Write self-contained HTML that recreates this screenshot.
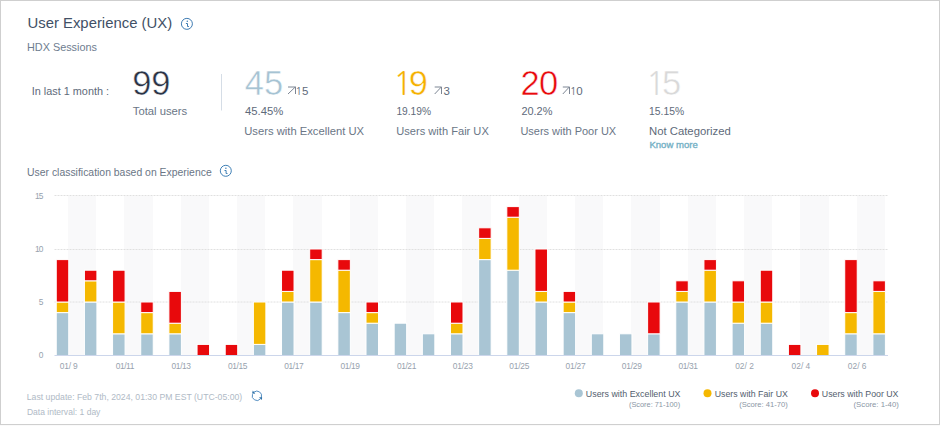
<!DOCTYPE html>
<html><head><meta charset="utf-8"><style>
html,body{margin:0;padding:0;background:#fafafa;}
body{width:940px;height:426px;overflow:hidden;position:relative;}
svg{position:absolute;left:0;top:0;display:block;}
text{font-family:"Liberation Sans", Arial, sans-serif;}
.ax{font-size:8.4px;fill:#97a2ae;}
</style></head><body>
<svg width="940" height="426" viewBox="0 0 940 426">
<rect x="0.5" y="0.5" width="939" height="424" fill="#fff" stroke="#cfcfcf" stroke-width="1"/>
<text x="27.5" y="28" font-size="15" fill="#415066" textLength="144.6" lengthAdjust="spacingAndGlyphs">User Experience (UX)</text>
<circle cx="186.9" cy="23.85" r="5.5" fill="none" stroke="#3f7cb3" stroke-width="1"/><circle cx="187.3" cy="21.25" r="0.75" fill="#3f7cb3"/><path d="M185.9 23.5 H187.5 V26.5 H188.9" stroke="#3f7cb3" stroke-width="1" fill="none"/>
<text x="27.0" y="51" font-size="10.5" fill="#6e7d8f" textLength="69.9" lengthAdjust="spacingAndGlyphs">HDX Sessions</text>
<text x="31.8" y="94.5" font-size="11" fill="#5e6a7a" textLength="77.2" lengthAdjust="spacingAndGlyphs">In last 1 month :</text>
<text x="132.2 151.2" y="94.7" font-size="34.5" stroke="#fff" stroke-width="0.5" fill="#2a3345">99</text>
<text x="132.8" y="114.8" font-size="11" fill="#6a7686" textLength="54.4" lengthAdjust="spacingAndGlyphs">Total users</text>
<line x1="221.5" y1="74" x2="221.5" y2="110.5" stroke="#d5dde6" stroke-width="1"/>

<text x="244.7 264" y="94.7" font-size="34.5" stroke="#fff" stroke-width="0.5" fill="#a6c3d3">45</text>
<path d="M288 94.0 L295.4 86.9 M288 87.0 H295.5 V94.0" stroke="#7d8694" stroke-width="1" fill="none"/>
<text y="94.6" font-size="11.5" fill="#5e6a7a"><tspan x="295.4" font-family="NanumGothic, 'Liberation Sans', sans-serif" font-size="10.65">1</tspan><tspan x="301.9">5</tspan></text>
<text x="245.0" y="114.8" font-size="11" fill="#5e6a7a" textLength="38.3" lengthAdjust="spacingAndGlyphs">45.45%</text>
<text x="244.2" y="134.6" font-size="11" fill="#6a7686" textLength="119.9" lengthAdjust="spacingAndGlyphs">Users with Excellent UX</text>

<text y="94.7" font-size="34.5" stroke="#fff" stroke-width="0.5" fill="#f5b000"><tspan x="393.15" font-family="NanumGothic, 'Liberation Sans', sans-serif" font-size="31.5" stroke-width="0.15">1</tspan><tspan x="408.85">9</tspan></text>
<path d="M434.7 94.0 L441.4 86.9 M434.7 87.0 H441.5 V94.0" stroke="#7d8694" stroke-width="1" fill="none"/>
<text x="443.6" y="94.6" font-size="11.5" fill="#5e6a7a">3</text>
<text x="396.4" y="114.8" font-size="11" fill="#5e6a7a" textLength="34.6" lengthAdjust="spacingAndGlyphs">19.19%</text>
<text x="396.3" y="134.6" font-size="11" fill="#6a7686" textLength="92.5" lengthAdjust="spacingAndGlyphs">Users with Fair UX</text>

<text x="520.5 538.9" y="94.7" font-size="34.5" stroke="#fff" stroke-width="0.5" fill="#e8090c">20</text>
<path d="M562.8 94.0 L569.4 86.9 M562.8 87.0 H569.5 V94.0" stroke="#7d8694" stroke-width="1" fill="none"/>
<text y="94.6" font-size="11.5" fill="#5e6a7a"><tspan x="570.1" font-family="NanumGothic, 'Liberation Sans', sans-serif" font-size="10.65">1</tspan><tspan x="576.3">0</tspan></text>
<text x="521.4" y="114.8" font-size="11" fill="#5e6a7a" textLength="31.0" lengthAdjust="spacingAndGlyphs">20.2%</text>
<text x="520.4" y="134.6" font-size="11" fill="#6a7686" textLength="95.8" lengthAdjust="spacingAndGlyphs">Users with Poor UX</text>

<text y="94.7" font-size="34.5" stroke="#fff" stroke-width="0.5" fill="#d9d9d9"><tspan x="646.05" font-family="NanumGothic, 'Liberation Sans', sans-serif" font-size="31.5" stroke-width="0.15">1</tspan><tspan x="661.9">5</tspan></text>
<text x="649.1" y="114.8" font-size="11" fill="#5e6a7a" textLength="35.1" lengthAdjust="spacingAndGlyphs">15.15%</text>
<text x="649.0" y="134.6" font-size="11" fill="#5e6a7a" textLength="81.8" lengthAdjust="spacingAndGlyphs">Not Categorized</text>
<text x="649.4" y="147.8" font-size="9.6" fill="#74b0c5" textLength="48.4" lengthAdjust="spacingAndGlyphs" stroke="#74b0c5" stroke-width="0.35">Know more</text>

<text x="27.0" y="175.5" font-size="10.5" fill="#6a7686" textLength="184.7" lengthAdjust="spacingAndGlyphs">User classification based on Experience</text>
<circle cx="225.8" cy="170.8" r="5.5" fill="none" stroke="#3f80b6" stroke-width="1"/><circle cx="225.9" cy="168.20" r="0.75" fill="#3f80b6"/><path d="M224.5 170.5 H226.1 V173.5 H227.5" stroke="#3f80b6" stroke-width="1" fill="none"/>
<rect x="68" y="196" width="28" height="159" fill="#f9f9fa"/>
<rect x="124" y="196" width="29" height="159" fill="#f9f9fa"/>
<rect x="181" y="196" width="28" height="159" fill="#f9f9fa"/>
<rect x="237" y="196" width="28" height="159" fill="#f9f9fa"/>
<rect x="293" y="196" width="29" height="159" fill="#f9f9fa"/>
<rect x="350" y="196" width="28" height="159" fill="#f9f9fa"/>
<rect x="406" y="196" width="28" height="159" fill="#f9f9fa"/>
<rect x="462" y="196" width="29" height="159" fill="#f9f9fa"/>
<rect x="519" y="196" width="28" height="159" fill="#f9f9fa"/>
<rect x="575" y="196" width="28" height="159" fill="#f9f9fa"/>
<rect x="631" y="196" width="29" height="159" fill="#f9f9fa"/>
<rect x="688" y="196" width="28" height="159" fill="#f9f9fa"/>
<rect x="744" y="196" width="28" height="159" fill="#f9f9fa"/>
<rect x="800" y="196" width="29" height="159" fill="#f9f9fa"/>
<rect x="857" y="196" width="28" height="159" fill="#f9f9fa"/>
<line x1="54.5" y1="302.0" x2="888.0" y2="302.0" stroke="#e0e0e0" stroke-width="1" stroke-dasharray="2,1"/>
<line x1="54.5" y1="249.5" x2="888.0" y2="249.5" stroke="#e0e0e0" stroke-width="1" stroke-dasharray="2,1"/>
<line x1="54.5" y1="195.5" x2="888.0" y2="195.5" stroke="#e0e0e0" stroke-width="1" stroke-dasharray="2,1"/>
<rect x="56.25" y="312.60" width="12.5" height="42.90" fill="#a9c5d4" stroke="#fff" stroke-width="1"/>
<rect x="56.25" y="302.00" width="12.5" height="10.60" fill="#f5b800" stroke="#fff" stroke-width="1"/>
<rect x="56.25" y="259.60" width="12.5" height="42.40" fill="#e8090c" stroke="#fff" stroke-width="1"/>
<rect x="84.41" y="302.00" width="12.5" height="53.50" fill="#a9c5d4" stroke="#fff" stroke-width="1"/>
<rect x="84.41" y="280.80" width="12.5" height="21.20" fill="#f5b800" stroke="#fff" stroke-width="1"/>
<rect x="84.41" y="270.20" width="12.5" height="10.60" fill="#e8090c" stroke="#fff" stroke-width="1"/>
<rect x="112.57" y="333.80" width="12.5" height="21.70" fill="#a9c5d4" stroke="#fff" stroke-width="1"/>
<rect x="112.57" y="302.00" width="12.5" height="31.80" fill="#f5b800" stroke="#fff" stroke-width="1"/>
<rect x="112.57" y="270.20" width="12.5" height="31.80" fill="#e8090c" stroke="#fff" stroke-width="1"/>
<rect x="140.73" y="333.80" width="12.5" height="21.70" fill="#a9c5d4" stroke="#fff" stroke-width="1"/>
<rect x="140.73" y="312.60" width="12.5" height="21.20" fill="#f5b800" stroke="#fff" stroke-width="1"/>
<rect x="140.73" y="302.00" width="12.5" height="10.60" fill="#e8090c" stroke="#fff" stroke-width="1"/>
<rect x="168.89" y="333.80" width="12.5" height="21.70" fill="#a9c5d4" stroke="#fff" stroke-width="1"/>
<rect x="168.89" y="323.20" width="12.5" height="10.60" fill="#f5b800" stroke="#fff" stroke-width="1"/>
<rect x="168.89" y="291.40" width="12.5" height="31.80" fill="#e8090c" stroke="#fff" stroke-width="1"/>
<rect x="197.05" y="344.40" width="12.5" height="11.10" fill="#e8090c" stroke="#fff" stroke-width="1"/>
<rect x="225.21" y="344.40" width="12.5" height="11.10" fill="#e8090c" stroke="#fff" stroke-width="1"/>
<rect x="253.37" y="344.40" width="12.5" height="11.10" fill="#a9c5d4" stroke="#fff" stroke-width="1"/>
<rect x="253.37" y="302.00" width="12.5" height="42.40" fill="#f5b800" stroke="#fff" stroke-width="1"/>
<rect x="281.53" y="302.00" width="12.5" height="53.50" fill="#a9c5d4" stroke="#fff" stroke-width="1"/>
<rect x="281.53" y="291.40" width="12.5" height="10.60" fill="#f5b800" stroke="#fff" stroke-width="1"/>
<rect x="281.53" y="270.20" width="12.5" height="21.20" fill="#e8090c" stroke="#fff" stroke-width="1"/>
<rect x="309.69" y="302.00" width="12.5" height="53.50" fill="#a9c5d4" stroke="#fff" stroke-width="1"/>
<rect x="309.69" y="259.60" width="12.5" height="42.40" fill="#f5b800" stroke="#fff" stroke-width="1"/>
<rect x="309.69" y="249.00" width="12.5" height="10.60" fill="#e8090c" stroke="#fff" stroke-width="1"/>
<rect x="337.85" y="312.60" width="12.5" height="42.90" fill="#a9c5d4" stroke="#fff" stroke-width="1"/>
<rect x="337.85" y="270.20" width="12.5" height="42.40" fill="#f5b800" stroke="#fff" stroke-width="1"/>
<rect x="337.85" y="259.60" width="12.5" height="10.60" fill="#e8090c" stroke="#fff" stroke-width="1"/>
<rect x="366.01" y="323.20" width="12.5" height="32.30" fill="#a9c5d4" stroke="#fff" stroke-width="1"/>
<rect x="366.01" y="312.60" width="12.5" height="10.60" fill="#f5b800" stroke="#fff" stroke-width="1"/>
<rect x="366.01" y="302.00" width="12.5" height="10.60" fill="#e8090c" stroke="#fff" stroke-width="1"/>
<rect x="394.17" y="323.20" width="12.5" height="32.30" fill="#a9c5d4" stroke="#fff" stroke-width="1"/>
<rect x="422.33" y="333.80" width="12.5" height="21.70" fill="#a9c5d4" stroke="#fff" stroke-width="1"/>
<rect x="450.49" y="333.80" width="12.5" height="21.70" fill="#a9c5d4" stroke="#fff" stroke-width="1"/>
<rect x="450.49" y="323.20" width="12.5" height="10.60" fill="#f5b800" stroke="#fff" stroke-width="1"/>
<rect x="450.49" y="302.00" width="12.5" height="21.20" fill="#e8090c" stroke="#fff" stroke-width="1"/>
<rect x="478.65" y="259.60" width="12.5" height="95.90" fill="#a9c5d4" stroke="#fff" stroke-width="1"/>
<rect x="478.65" y="238.40" width="12.5" height="21.20" fill="#f5b800" stroke="#fff" stroke-width="1"/>
<rect x="478.65" y="227.80" width="12.5" height="10.60" fill="#e8090c" stroke="#fff" stroke-width="1"/>
<rect x="506.81" y="270.20" width="12.5" height="85.30" fill="#a9c5d4" stroke="#fff" stroke-width="1"/>
<rect x="506.81" y="217.20" width="12.5" height="53.00" fill="#f5b800" stroke="#fff" stroke-width="1"/>
<rect x="506.81" y="206.60" width="12.5" height="10.60" fill="#e8090c" stroke="#fff" stroke-width="1"/>
<rect x="534.97" y="302.00" width="12.5" height="53.50" fill="#a9c5d4" stroke="#fff" stroke-width="1"/>
<rect x="534.97" y="291.40" width="12.5" height="10.60" fill="#f5b800" stroke="#fff" stroke-width="1"/>
<rect x="534.97" y="249.00" width="12.5" height="42.40" fill="#e8090c" stroke="#fff" stroke-width="1"/>
<rect x="563.13" y="312.60" width="12.5" height="42.90" fill="#a9c5d4" stroke="#fff" stroke-width="1"/>
<rect x="563.13" y="302.00" width="12.5" height="10.60" fill="#f5b800" stroke="#fff" stroke-width="1"/>
<rect x="563.13" y="291.40" width="12.5" height="10.60" fill="#e8090c" stroke="#fff" stroke-width="1"/>
<rect x="591.29" y="333.80" width="12.5" height="21.70" fill="#a9c5d4" stroke="#fff" stroke-width="1"/>
<rect x="619.45" y="333.80" width="12.5" height="21.70" fill="#a9c5d4" stroke="#fff" stroke-width="1"/>
<rect x="647.61" y="333.80" width="12.5" height="21.70" fill="#a9c5d4" stroke="#fff" stroke-width="1"/>
<rect x="647.61" y="302.00" width="12.5" height="31.80" fill="#e8090c" stroke="#fff" stroke-width="1"/>
<rect x="675.77" y="302.00" width="12.5" height="53.50" fill="#a9c5d4" stroke="#fff" stroke-width="1"/>
<rect x="675.77" y="291.40" width="12.5" height="10.60" fill="#f5b800" stroke="#fff" stroke-width="1"/>
<rect x="675.77" y="280.80" width="12.5" height="10.60" fill="#e8090c" stroke="#fff" stroke-width="1"/>
<rect x="703.93" y="302.00" width="12.5" height="53.50" fill="#a9c5d4" stroke="#fff" stroke-width="1"/>
<rect x="703.93" y="270.20" width="12.5" height="31.80" fill="#f5b800" stroke="#fff" stroke-width="1"/>
<rect x="703.93" y="259.60" width="12.5" height="10.60" fill="#e8090c" stroke="#fff" stroke-width="1"/>
<rect x="732.09" y="323.20" width="12.5" height="32.30" fill="#a9c5d4" stroke="#fff" stroke-width="1"/>
<rect x="732.09" y="302.00" width="12.5" height="21.20" fill="#f5b800" stroke="#fff" stroke-width="1"/>
<rect x="732.09" y="280.80" width="12.5" height="21.20" fill="#e8090c" stroke="#fff" stroke-width="1"/>
<rect x="760.25" y="323.20" width="12.5" height="32.30" fill="#a9c5d4" stroke="#fff" stroke-width="1"/>
<rect x="760.25" y="302.00" width="12.5" height="21.20" fill="#f5b800" stroke="#fff" stroke-width="1"/>
<rect x="760.25" y="270.20" width="12.5" height="31.80" fill="#e8090c" stroke="#fff" stroke-width="1"/>
<rect x="788.41" y="344.40" width="12.5" height="11.10" fill="#e8090c" stroke="#fff" stroke-width="1"/>
<rect x="816.57" y="344.40" width="12.5" height="11.10" fill="#f5b800" stroke="#fff" stroke-width="1"/>
<rect x="844.73" y="333.80" width="12.5" height="21.70" fill="#a9c5d4" stroke="#fff" stroke-width="1"/>
<rect x="844.73" y="312.60" width="12.5" height="21.20" fill="#f5b800" stroke="#fff" stroke-width="1"/>
<rect x="844.73" y="259.60" width="12.5" height="53.00" fill="#e8090c" stroke="#fff" stroke-width="1"/>
<rect x="872.89" y="333.80" width="12.5" height="21.70" fill="#a9c5d4" stroke="#fff" stroke-width="1"/>
<rect x="872.89" y="291.40" width="12.5" height="42.40" fill="#f5b800" stroke="#fff" stroke-width="1"/>
<rect x="872.89" y="280.80" width="12.5" height="10.60" fill="#e8090c" stroke="#fff" stroke-width="1"/>
<line x1="54.5" y1="355.5" x2="888.0" y2="355.5" stroke="#ccd6eb" stroke-width="1"/>
<text x="43.5" y="357.9" text-anchor="end" class="ax" textLength="4.67" lengthAdjust="spacing">0</text>
<text x="43.5" y="304.9" text-anchor="end" class="ax" textLength="4.67" lengthAdjust="spacing">5</text>
<text x="43.5" y="251.9" text-anchor="end" class="ax" textLength="8.54" lengthAdjust="spacing">10</text>
<text x="43.5" y="198.9" text-anchor="end" class="ax" textLength="8.54" lengthAdjust="spacing">15</text>
<text x="68.7" y="368.8" text-anchor="middle" class="ax" textLength="17.87" lengthAdjust="spacing">01/ 9</text>
<text x="125.0" y="368.8" text-anchor="middle" class="ax" textLength="18.61" lengthAdjust="spacing">01/11</text>
<text x="181.3" y="368.8" text-anchor="middle" class="ax" textLength="19.41" lengthAdjust="spacing">01/13</text>
<text x="237.7" y="368.8" text-anchor="middle" class="ax" textLength="19.41" lengthAdjust="spacing">01/15</text>
<text x="294.0" y="368.8" text-anchor="middle" class="ax" textLength="19.41" lengthAdjust="spacing">01/17</text>
<text x="350.3" y="368.8" text-anchor="middle" class="ax" textLength="19.41" lengthAdjust="spacing">01/19</text>
<text x="406.6" y="368.8" text-anchor="middle" class="ax" textLength="19.41" lengthAdjust="spacing">01/21</text>
<text x="462.9" y="368.8" text-anchor="middle" class="ax" textLength="20.21" lengthAdjust="spacing">01/23</text>
<text x="519.3" y="368.8" text-anchor="middle" class="ax" textLength="20.21" lengthAdjust="spacing">01/25</text>
<text x="575.6" y="368.8" text-anchor="middle" class="ax" textLength="20.21" lengthAdjust="spacing">01/27</text>
<text x="631.9" y="368.8" text-anchor="middle" class="ax" textLength="20.21" lengthAdjust="spacing">01/29</text>
<text x="688.2" y="368.8" text-anchor="middle" class="ax" textLength="19.41" lengthAdjust="spacing">01/31</text>
<text x="744.5" y="368.8" text-anchor="middle" class="ax" textLength="18.67" lengthAdjust="spacing">02/ 2</text>
<text x="800.9" y="368.8" text-anchor="middle" class="ax" textLength="18.67" lengthAdjust="spacing">02/ 4</text>
<text x="857.2" y="368.8" text-anchor="middle" class="ax" textLength="18.67" lengthAdjust="spacing">02/ 6</text>

<text x="26.8" y="399.8" font-size="9" fill="#b0bac6" textLength="215.4" lengthAdjust="spacingAndGlyphs">Last update: Feb 7th, 2024, 01:30 PM EST (UTC-05:00)</text>
<text x="26.9" y="415.2" font-size="9" fill="#b0bac6" textLength="73.5" lengthAdjust="spacingAndGlyphs">Data interval: 1 day</text>
<g fill="none" stroke="#4a87be" stroke-width="0.95">
<path d="M254.01 392.10 A4.7 4.7 0 0 1 261.42 397.10"/>
<path d="M260.50 398.82 A4.7 4.7 0 0 1 252.48 394.19"/>
</g>
<path d="M252.12 393.57 L252.78 390.52 L255.24 393.67 Z" fill="#2f71a8"/>
<path d="M262.04 396.98 L262.03 400.11 L258.97 397.54 Z" fill="#2f71a8"/>

<circle cx="578.8" cy="393.3" r="4" fill="#a9c5d4"/>
<text x="585.8" y="396.7" font-size="9" fill="#535e6e" textLength="94.7" lengthAdjust="spacingAndGlyphs">Users with Excellent UX</text>
<text x="629.0" y="407.4" font-size="7.8" fill="#8a96a5" textLength="51.1" lengthAdjust="spacingAndGlyphs">(Score: 71-100)</text>
<circle cx="707.5" cy="393.3" r="4" fill="#f5b800"/>
<text x="714.8" y="396.7" font-size="9" fill="#535e6e" textLength="73.0" lengthAdjust="spacingAndGlyphs">Users with Fair UX</text>
<text x="739.2" y="407.4" font-size="7.8" fill="#8a96a5" textLength="48.6" lengthAdjust="spacingAndGlyphs">(Score: 41-70)</text>
<circle cx="815" cy="393.3" r="4" fill="#e8090c"/>
<text x="821.8" y="396.7" font-size="9" fill="#535e6e" textLength="76.7" lengthAdjust="spacingAndGlyphs">Users with Poor UX</text>
<text x="853.5" y="407.4" font-size="7.8" fill="#8a96a5" textLength="45.3" lengthAdjust="spacingAndGlyphs">(Score: 1-40)</text>
</svg>
</body></html>
